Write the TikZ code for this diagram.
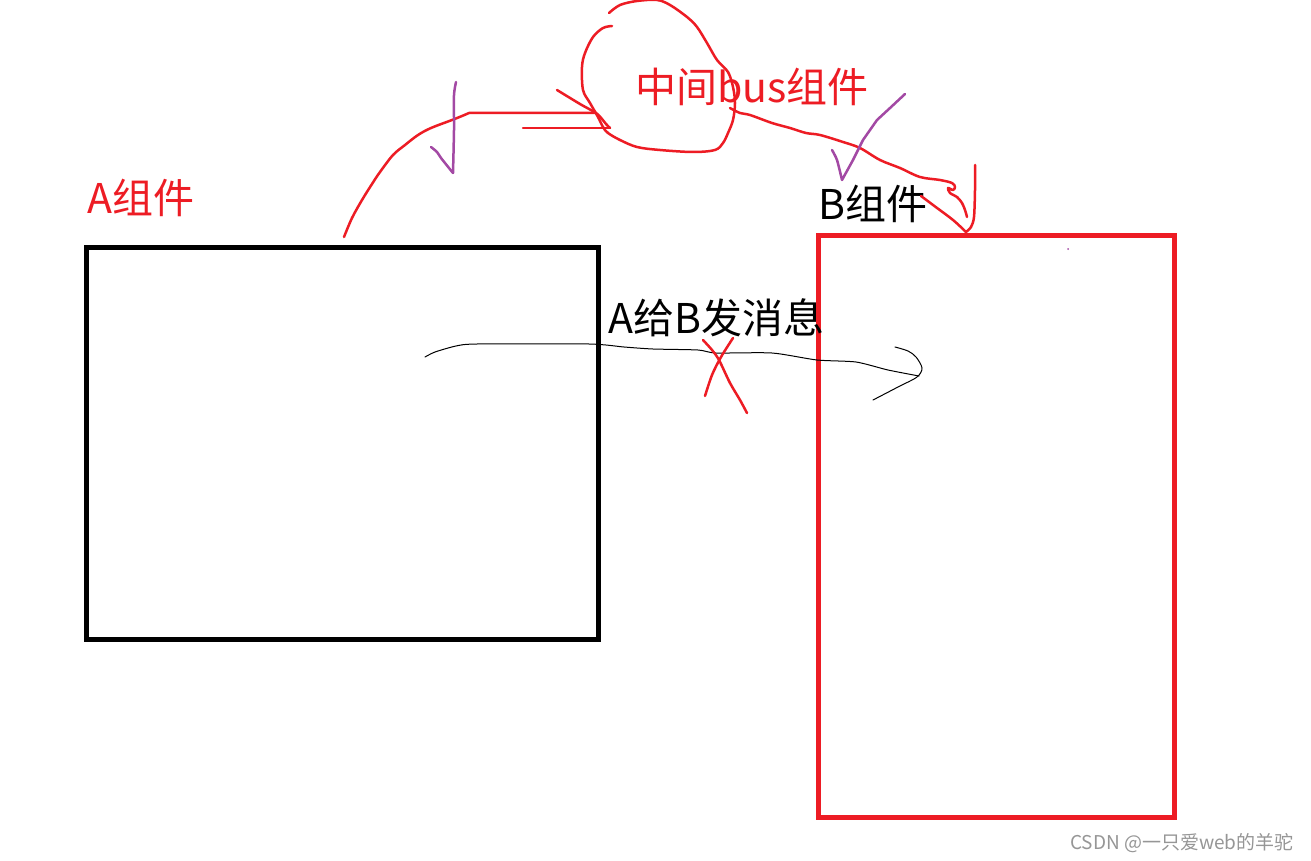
\documentclass[tikz,border=0pt]{standalone}
\usepackage{fontspec}
\setmainfont{Noto Sans CJK SC}
\definecolor{pred}{RGB}{237,28,36}
\definecolor{ppurple}{RGB}{163,73,164}
\definecolor{wmgray}{RGB}{150,150,150}
\begin{document}
\begin{tikzpicture}[x=1pt,y=-1pt,
  redink/.style={draw=pred,line width=2.5pt,line cap=round,line join=round},
  purpleink/.style={draw=ppurple,line width=2.5pt,line cap=round,line join=round},
  pencil/.style={draw=black,line width=1pt,line cap=round,line join=round},
  lbl/.style={inner sep=0pt,anchor=base west,font=\fontsize{41}{48}\selectfont},
  box/.style={draw,line width=5pt,inner sep=0pt}]
\useasboundingbox (0,0) rectangle (1311,861);
\fill[white] (0,0) rectangle (1311,861);

% boxes
\node[box,draw=black,minimum width=512pt,minimum height=392pt] (boxA) at (342.5,443.5) {};
\node[box,draw=pred,minimum width=356pt,minimum height=582pt] (boxB) at (996.5,526.5) {};

% labels
\node[lbl,text=pred] (labelA) at (87,213) {A组件};
\node[lbl,text=black] (labelB) at (818,219) {B组件};
\node[lbl,text=pred] (labelBus) at (635,103) {中间bus组件};
\node[lbl,text=black] (labelMsg) at (608,333) {A给B发消息};
\node[inner sep=0pt,anchor=base west,text=wmgray,font=\fontsize{19}{22}\selectfont] (wm) at (1070,849) {CSDN @一只爱web的羊驼};

% bus circle
\draw[redink] plot[smooth,tension=0.55] coordinates {(609,13) (620,5) (637,1) (657,0) (670,5) (687,17) (697,27) (707,43) (717,60) (728,72) (733,87) (735,103) (733,120) (728,133) (723,143) (715,150) (693,152) (660,150) (637,147) (620,140) (608,133) (603,127) (598,117) (590,103) (583,90) (582,67) (585,53) (593,37) (603,28) (612,26)};

% left arc from A to bus
\draw[redink] plot[smooth,tension=0.55] coordinates {(344,237) (352,218) (362,200) (372,184) (380,172) (393,155) (405,145) (418,135) (431,128) (452,120) (462,116) (469,113)} -- (596,113);
\draw[redink] (523,128) -- (610,128);
\draw[redink] plot[smooth,tension=0.5] coordinates {(557,90) (580,104) (596,113) (602,119) (606,124) (610,128)};

% right arc from bus to B
\draw[redink] plot[smooth,tension=0.55] coordinates {(730,108) (740,113) (750,115) (772,123) (790,128) (806,133) (820,135) (843,142) (860,148) (880,160) (900,168) (920,177) (940,180) (952,183) (955,187) (953,190) (948,188) (950,193) (957,197) (962,203) (965,210) (967,217)};
\draw[redink] plot[smooth,tension=0.5] coordinates {(921,196) (933,205) (953,220) (966,232)};
\draw[redink] plot[smooth,tension=0.5] coordinates {(975,165) (975,190) (974,217) (971,227) (966,232)};

% purple ticks
\draw[purpleink] plot[smooth,tension=0.4] coordinates {(456,82) (454,95) (454,130) (453,173)};
\draw[purpleink] plot[smooth,tension=0.4] coordinates {(431,147) (437,152) (441,158) (453,173)};
\draw[purpleink] plot[smooth,tension=0.4] coordinates {(832,150) (837,160) (842,180)} -- (853,160) -- (863,140) -- (877,120) -- (890,108) -- (905,94);
\fill[ppurple] (1068,249) circle (1pt);

% direct message arrow (crossed)
\draw[pencil] plot[smooth,tension=0.4] coordinates {(425,357) (435,352) (456,346) (477,344) (589,344) (624,347) (653,349) (698,350) (716,353) (772,353) (817,360) (856,362) (888,370) (919,376)};
\draw[pencil] plot[smooth,tension=0.5] coordinates {(895,347) (908,351) (916,357) (922,368) (917,377) (898,387) (873,400)};
\draw[redink] plot[smooth,tension=0.5] coordinates {(703,340) (712,350) (719,360) (730,383) (740,400) (747,413)};
\draw[redink] plot[smooth,tension=0.5] coordinates {(733,338) (721,357) (712,375) (705,396)};
\end{tikzpicture}
\end{document}
